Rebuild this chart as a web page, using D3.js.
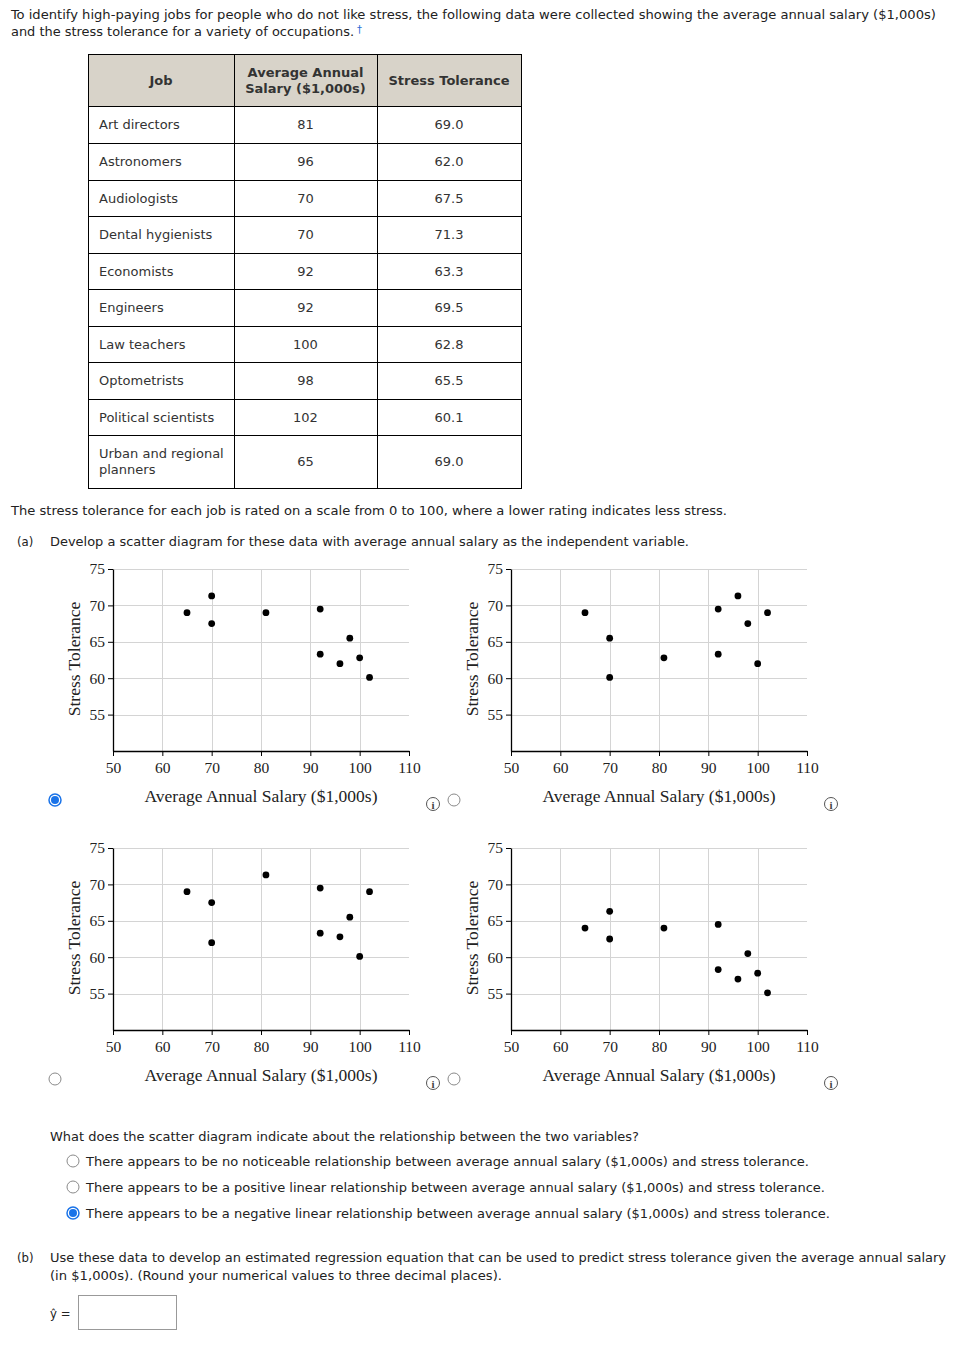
<!DOCTYPE html>
<html><head><meta charset="utf-8">
<script src="https://cdn.jsdelivr.net/npm/d3@7"></script>
<style>
html,body{margin:0;padding:0;background:#fff;}
svg{display:block;}
</style></head>
<body>
<script>
// ---- data ----
const jobs = ["Art directors","Astronomers","Audiologists","Dental hygienists","Economists","Engineers","Law teachers","Optometrists","Political scientists","Urban and regional|planners"];
const salary = [81,96,70,70,92,92,100,98,102,65];
const stress = [69.0,62.0,67.5,71.3,63.3,69.5,62.8,65.5,60.1,69.0];
const tableHeaders = ["Job","Average Annual|Salary ($1,000s)","Stress Tolerance"];

// option charts (answer choices)
const optX = [65,70,70,81,92,92,96,98,100,102];
const optB_y = [69.0,65.5,60.1,62.8,69.5,63.3,71.3,67.5,62.0,69.0];
const optC_y = [69.0,67.5,62.0,71.3,69.5,63.3,62.8,65.5,60.1,69.0];
const optD_y = [64.0,66.3,62.5,64.0,64.5,58.3,57.0,60.5,57.8,55.1];

const xTicks = [50,60,70,80,90,100,110];
const yTicks = [55,60,65,70,75];
const xGrid = [60,70,80,90,100];
const xLabel = "Average Annual Salary ($1,000s)";
const yLabel = "Stress Tolerance";

const relOptions = [
  "There appears to be no noticeable relationship between average annual salary ($1,000s) and stress tolerance.",
  "There appears to be a positive linear relationship between average annual salary ($1,000s) and stress tolerance.",
  "There appears to be a negative linear relationship between average annual salary ($1,000s) and stress tolerance."
];
const relSelected = 2;

// ---- drawing ----
const W = 967, H = 1346;
const sans = "'DejaVu Sans Condensed','DejaVu Sans',Verdana,sans-serif";
const sansT = "'DejaVu Sans',Verdana,sans-serif";
const serif = "'Liberation Serif','Times New Roman',serif";
const svg = d3.select("body").append("svg").attr("width", W).attr("height", H);

function txt(x, y, s, opts = {}) {
  const t = svg.append("text").attr("x", x).attr("y", y)
    .attr("font-family", opts.family || sans)
    .attr("font-size", opts.size || 13)
    .attr("fill", opts.fill || "#222")
    .attr("dominant-baseline", "central")
    .attr("text-anchor", opts.anchor || "start")
    .attr("font-weight", opts.weight || "normal")
    .text(s);
  if (opts.len) t.attr("textLength", opts.len).attr("lengthAdjust", "spacingAndGlyphs");
  return t;
}

// intro
txt(11, 14, "To identify high-paying jobs for people who do not like stress, the following data were collected showing the average annual salary ($1,000s)", {len: 925});
txt(11, 31, "and the stress tolerance for a variety of occupations.", {len: 343});
txt(357, 29, "†", {fill: "#2b6cd4", size: 11});

// table
const colX = [88, 234, 377, 521];
const rowY = [54, 106, 143, 180, 216, 253, 289, 326, 362, 399, 435, 488];
const tg = svg.append("g");
tg.append("rect").attr("x", colX[0]).attr("y", rowY[0]).attr("width", colX[3]-colX[0]).attr("height", rowY[1]-rowY[0]).attr("fill", "#d8d3c9");
rowY.forEach(y => tg.append("line").attr("x1", colX[0]).attr("x2", colX[3]+1).attr("y1", y+0.5).attr("y2", y+0.5).attr("stroke", "#000"));
colX.forEach(x => tg.append("line").attr("x1", x+0.5).attr("x2", x+0.5).attr("y1", rowY[0]).attr("y2", rowY[rowY.length-1]+1).attr("stroke", "#000"));
const colC = [(colX[0]+colX[1])/2, (colX[1]+colX[2])/2, (colX[2]+colX[3])/2];
tableHeaders.forEach((h, i) => {
  const parts = h.split("|");
  const cy = (rowY[0]+rowY[1])/2;
  parts.forEach((p, j) => {
    txt(colC[i], cy + (j - (parts.length-1)/2)*16, p, {anchor: "middle", weight: "bold", size: 13, family: sansT, fill: "#333"});
  });
});
jobs.forEach((j, i) => {
  const cy = (rowY[i+1]+rowY[i+2])/2;
  const parts = j.split("|");
  parts.forEach((p, k) => txt(99, cy + (k - (parts.length-1)/2)*16, p, {size: 13, family: sansT, fill: "#333"}));
  txt(colC[1], cy, String(salary[i]), {anchor: "middle", size: 13, family: sansT, fill: "#333"});
  txt(colC[2], cy, stress[i].toFixed(1), {anchor: "middle", size: 13, family: sansT, fill: "#333"});
});

txt(11, 510, "The stress tolerance for each job is rated on a scale from 0 to 100, where a lower rating indicates less stress.", {len: 716});
txt(17, 541, "(a)", {});
txt(50, 541, "Develop a scatter diagram for these data with average annual salary as the independent variable.", {len: 639});

// scatter charts
function scatter(ox, oy, xs, ys) {
  const w = 296, h = 182;
  const g = svg.append("g").attr("transform", `translate(${ox},${oy})`);
  const x = d3.scaleLinear().domain([50,110]).range([0,w]);
  const y = d3.scaleLinear().domain([50,75]).range([h,0]);
  g.selectAll(".hg").data(yTicks).enter().append("line")
    .attr("x1", 0).attr("x2", w).attr("y1", d => Math.round(y(d))+0.5).attr("y2", d => Math.round(y(d))+0.5)
    .attr("stroke", "#d4d4d4");
  g.selectAll(".vg").data(xGrid).enter().append("line")
    .attr("y1", 0).attr("y2", h).attr("x1", d => Math.round(x(d))+0.5).attr("x2", d => Math.round(x(d))+0.5)
    .attr("stroke", "#d4d4d4");
  const xa = g.append("g").attr("transform", `translate(0,${h})`)
    .call(d3.axisBottom(x).tickValues(xTicks).tickSize(5).tickSizeOuter(0).tickPadding(6));
  const ya = g.append("g")
    .call(d3.axisLeft(y).tickValues(yTicks).tickSize(5).tickSizeOuter(0).tickPadding(3));
  [xa, ya].forEach(a => {
    a.attr("font-size", null).attr("font-family", null);
    a.select(".domain").attr("stroke", "#000").attr("stroke-width", 1.3);
    a.selectAll(".tick line").attr("stroke", "#000");
    a.selectAll("text").style("font-family", serif).style("font-size", "15.5px").attr("fill", "#222");
  });
  g.append("text").attr("x", w/2).attr("y", h+45).attr("text-anchor", "middle")
    .attr("dominant-baseline", "central").style("font-family", serif).style("font-size", "17.5px").attr("fill", "#222").text(xLabel);
  g.append("text").attr("transform", `translate(-39,${h/2 - 1}) rotate(-90)`).attr("text-anchor", "middle")
    .attr("dominant-baseline", "central").style("font-family", serif).style("font-size", "17.5px").attr("fill", "#222").text(yLabel);
  g.selectAll(".pt").data(xs.map((v, i) => [v, ys[i]])).enter().append("circle")
    .attr("cx", d => x(d[0])).attr("cy", d => y(d[1])).attr("r", 3.4).attr("fill", "#000");
}
scatter(113, 569, salary, stress);
scatter(511, 569, optX, optB_y);
scatter(113, 848, optX, optC_y);
scatter(511, 848, optX, optD_y);

function radio(cx, cy, sel) {
  if (sel) {
    svg.append("circle").attr("cx", cx).attr("cy", cy).attr("r", 6).attr("fill", "#fff").attr("stroke", "#1a73e8").attr("stroke-width", 1.5);
    svg.append("circle").attr("cx", cx).attr("cy", cy).attr("r", 4).attr("fill", "#1a73e8");
  } else {
    svg.append("circle").attr("cx", cx).attr("cy", cy).attr("r", 6).attr("fill", "#fff").attr("stroke", "#8a8a8a").attr("stroke-width", 1);
  }
}
function info(cx, cy) {
  svg.append("circle").attr("cx", cx).attr("cy", cy).attr("r", 6.5).attr("fill", "none").attr("stroke", "#555").attr("stroke-width", 1);
  svg.append("text").attr("x", cx).attr("y", cy+0.5).attr("text-anchor", "middle").attr("dominant-baseline", "central")
    .attr("font-family", serif).attr("font-size", 11).attr("font-weight", "bold").attr("fill", "#444").text("i");
}
radio(55, 800, true); info(433, 804); radio(454, 800, false); info(831, 804);
radio(55, 1079, false); info(433, 1083); radio(454, 1079, false); info(831, 1083);

// question
txt(50, 1136, "What does the scatter diagram indicate about the relationship between the two variables?", {len: 589});
relOptions.forEach((o, i) => {
  const cy = 1161 + i*26;
  radio(73, cy, i === relSelected);
  txt(86, cy, o, {len: [723, 739, 744][i]});
});

// part b
txt(17, 1257, "(b)");
txt(50, 1257, "Use these data to develop an estimated regression equation that can be used to predict stress tolerance given the average annual salary", {len: 896});
txt(50, 1275, "(in $1,000s). (Round your numerical values to three decimal places).", {len: 452});
txt(50, 1313, "ŷ =");
svg.append("rect").attr("x", 78.5).attr("y", 1295.5).attr("width", 98).attr("height", 34).attr("fill", "#fff").attr("stroke", "#999");
</script>
</body></html>
